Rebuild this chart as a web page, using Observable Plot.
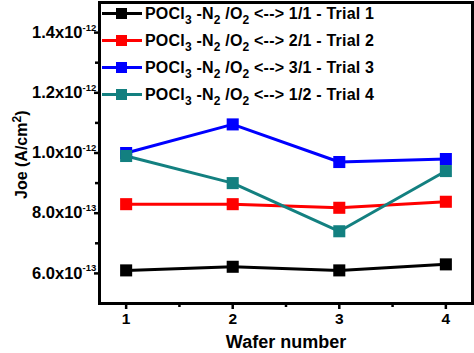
<!DOCTYPE html>
<html><head><meta charset="utf-8">
<script src="https://cdn.jsdelivr.net/npm/d3@7"></script>
<script src="https://cdn.jsdelivr.net/npm/@observablehq/plot@0.6"></script>
<style>
body{margin:0;background:#fff;}
#wrap{position:relative;width:474px;height:353px;overflow:hidden;}
#legend{position:absolute;left:102px;top:0;font-family:Arial,"Liberation Sans",sans-serif;font-weight:bold;font-size:16px;letter-spacing:0.2px;color:#000;}
.row{height:27px;display:flex;align-items:center;white-space:nowrap;}
.sw{position:relative;width:40px;height:3px;margin-right:3px;}
.sq{position:absolute;left:14px;top:-4px;width:11px;height:11px;}
.sub{font-size:12px;position:relative;top:5px;}
</style></head><body><div id="wrap"></div>
<script>
const wafers = [1, 2, 3, 4];
const seriesNames = ["1/1 - Trial 1", "2/1 - Trial 2", "3/1 - Trial 3", "1/2 - Trial 4"];
const trial1 = [6.1e-13, 6.22e-13, 6.1e-13, 6.3e-13];
const trial2 = [8.3e-13, 8.3e-13, 8.18e-13, 8.38e-13];
const trial3 = [1.0e-12, 1.095e-12, 9.7e-13, 9.8e-13];
const trial4 = [9.9e-13, 9.0e-13, 7.4e-13, 9.4e-13];
const colors = ["#000000", "#ff0000", "#0000ff", "#138080"];
const yMajor = [6e-13, 8e-13, 1e-12, 1.2e-12, 1.4e-12];
const yMantissa = ["6.0x10", "8.0x10", "1.0x10", "1.2x10", "1.4x10"];
const yExponent = ["-13", "-13", "-12", "-12", "-12"];
const yMinor = [7e-13, 9e-13, 1.1e-12, 1.3e-12];
const xMinor = [1.5, 2.5, 3.5];
const yTitle = ["Joe (A/cm2)"];

const allSeries = [trial1, trial2, trial3, trial4];
const data = allSeries.flatMap((vals, s) => wafers.map((w, i) => ({wafer: w, joe: vals[i], series: seriesNames[s]})));

const chart = Plot.plot({
  width: 474, height: 353,
  marginLeft: 99, marginRight: 2, marginTop: 2, marginBottom: 50,
  style: {fontFamily: "Arial, 'Liberation Sans', sans-serif", fontWeight: "bold", fontSize: "15px", background: "#fff", color: "#000"},
  x: {domain: [0.75, 4.25]},
  y: {domain: [5e-13, 1.5e-12]},
  color: {domain: seriesNames, range: colors},
  marks: [
    Plot.axisY({ticks: yMajor, tickSize: 5, tickPadding: 12, strokeWidth: 2.5, tickFormat: (d, i) => yMantissa[i], fontSize: 16.5, label: null}),
    Plot.axisY({ticks: yMinor, tickSize: 4, strokeWidth: 2.5, tickFormat: () => "", label: null}),
    Plot.text(yMajor, {y: d => d, text: (d, i) => yExponent[i], frameAnchor: "left", dx: -17, dy: -5, textAnchor: "start", fontSize: 9.5}),
    Plot.text(yTitle, {text: d => d, frameAnchor: "left", rotate: -90, dx: -78, dy: 46, textAnchor: "start", lineAnchor: "middle", fontSize: 16, className: "ytitle"}),
    Plot.axisX({ticks: wafers, tickSize: 6, tickPadding: 3, strokeWidth: 2.5, tickFormat: d => String(d), fontSize: 15.5,
      label: "Wafer number", labelAnchor: "center", labelArrow: "none", labelOffset: 44}),
    Plot.axisX({ticks: xMinor, tickSize: 4, strokeWidth: 2.5, tickFormat: () => "", label: null}),
    Plot.line(data, {x: "wafer", y: "joe", stroke: "series", z: "series", strokeWidth: 3}),
    Plot.dot(data, {x: "wafer", y: "joe", fill: "series", symbol: "square", r: 6.8}),
    Plot.frame({strokeWidth: 3})
  ]
});
const wrap = document.getElementById("wrap");
wrap.appendChild(chart);
chart.querySelectorAll("g[aria-label='x-axis label'] text").forEach(t => t.setAttribute("font-size", "18"));
const ns = "http://www.w3.org/2000/svg";
chart.querySelectorAll(".ytitle text").forEach(t => {
  const full = t.textContent;
  t.textContent = "";
  const a = document.createElementNS(ns, "tspan"); a.textContent = full.slice(0, 9);
  const b = document.createElementNS(ns, "tspan"); b.textContent = full.slice(9, 10);
  b.setAttribute("dy", "-6"); b.setAttribute("font-size", "12");
  const c = document.createElementNS(ns, "tspan"); c.textContent = full.slice(10);
  c.setAttribute("dy", "6");
  t.append(a, b, c);
});

const legend = document.createElement("div");
legend.id = "legend";
seriesNames.forEach((name, i) => {
  const row = document.createElement("div");
  row.className = "row";
  row.innerHTML = `<div class="sw" style="background:${colors[i]}"><div class="sq" style="background:${colors[i]}"></div></div>` +
    `<span>POCl<span class="sub">3</span> -N<span class="sub">2</span> /O<span class="sub">2</span> &lt;--&gt; ${name}</span>`;
  legend.appendChild(row);
});
wrap.appendChild(legend);
</script>
</body></html>
